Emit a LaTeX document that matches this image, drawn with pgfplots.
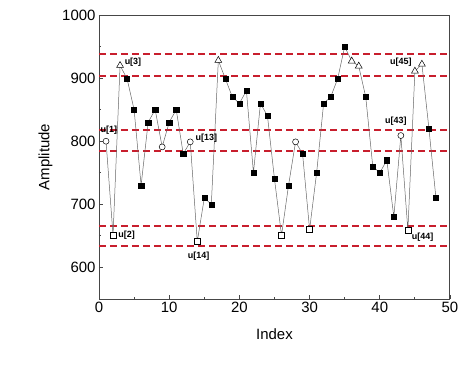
\documentclass[border=0pt]{standalone}
\usepackage{pgfplots}
\pgfplotsset{compat=1.18}
\usepackage{fontspec}
\setmainfont{Liberation Sans}
\definecolor{dred}{RGB}{200,30,45}
\definecolor{axgray}{RGB}{70,70,70}
\begin{document}
\begin{tikzpicture}
\begin{axis}[
  at={(0,0)}, anchor=south west,
  scale only axis, width=351bp, height=284bp,
  xmin=0, xmax=50, ymin=550, ymax=1000,
  xtick={0,10,...,50}, ytick={600,700,800,900,1000},
  minor xtick={5,15,...,45}, minor ytick={650,750,850,950},
  tick align=inside, xtick pos=bottom, ytick pos=left,
  major tick length=4bp, minor tick length=2.5bp,
  axis line style={axgray, line width=1pt},
  every tick/.style={axgray, line width=0.8pt},
  tick label style={font=\fontsize{15}{16}\selectfont},
  /pgf/number format/assume math mode=true,
  /pgf/number format/1000 sep={},
  xlabel={Index}, ylabel={Amplitude},
  label style={font=\fontsize{15}{16}\selectfont},
  xlabel style={yshift=-9bp},
  ylabel style={yshift=3bp},
  clip=false,
]
% threshold lines
\pgfplotsset{thr/.style={dred, dash pattern=on 7bp off 4bp, line width=1.7pt, mark=none, forget plot}}
\addplot[thr] coordinates {(0,938)(50,938)};
\addplot[thr] coordinates {(0,903)(50,903)};
\addplot[thr] coordinates {(0,818)(50,818)};
\addplot[thr] coordinates {(0,784)(50,784)};
\addplot[thr] coordinates {(0,666)(50,666)};
\addplot[thr] coordinates {(0,634)(50,634)};
% connecting line
\addplot[gray!80!black, line width=0.5pt, mark=none] coordinates {
(1,800)(2,651)(3,920)(4,899)(5,850)(6,730)(7,830)(8,850)(9,791)(10,830)
(11,850)(12,780)(13,799)(14,641)(15,710)(16,700)(17,928)(18,899)(19,870)(20,860)
(21,880)(22,750)(23,860)(24,840)(25,740)(26,651)(27,730)(28,799)(29,780)(30,660)
(31,750)(32,860)(33,870)(34,899)(35,950)(36,927)(37,919)(38,870)(39,760)(40,750)
(41,770)(42,680)(43,809)(44,659)(45,911)(46,922)(47,820)(48,710)
};
% filled squares
\addplot[only marks, mark=square*, mark size=2.6pt, black] coordinates {
(4,899)(5,850)(6,730)(7,830)(8,850)(10,830)(11,850)(12,780)(15,710)(16,700)
(18,899)(19,870)(20,860)(21,880)(22,750)(23,860)(24,840)(25,740)(27,730)(29,780)
(31,750)(32,860)(33,870)(34,899)(35,950)(38,870)(39,760)(40,750)(41,770)(42,680)
(47,820)(48,710)
};
% open circles
\addplot[only marks, mark=*, mark size=3pt, draw=black, fill=white, line width=0.5pt] coordinates {
(1,800)(9,791)(13,799)(28,799)(43,809)
};
% open squares
\addplot[only marks, mark=square*, mark size=3pt, draw=black, fill=white, line width=0.5pt] coordinates {
(2,651)(14,641)(26,651)(30,660)(44,659)
};
% open triangles
\addplot[only marks, mark=triangle*, mark size=4pt, draw=black, fill=white, line width=0.5pt] coordinates {
(3,920)(17,928)(36,927)(37,919)(45,911)(46,922)
};
\tikzset{ul/.style={font=\fontsize{9}{10}\selectfont\bfseries, inner sep=1bp}}
\node[ul] at (axis cs:1.4,818) {u[1]};
\node[ul, anchor=west] at (axis cs:2.6,651) {u[2]};
\node[ul, anchor=west] at (axis cs:3.5,925) {u[3]};
\node[ul, anchor=west] at (axis cs:13.6,805) {u[13]};
\node[ul] at (axis cs:14.2,618) {u[14]};
\node[ul] at (axis cs:42.3,831) {u[43]};
\node[ul, anchor=west] at (axis cs:44.4,648) {u[44]};
\node[ul, anchor=east] at (axis cs:44.7,925) {u[45]};
\end{axis}
\path[use as bounding box] (-99bp,-67bp) rectangle (375bp,299bp);
\end{tikzpicture}
\end{document}
